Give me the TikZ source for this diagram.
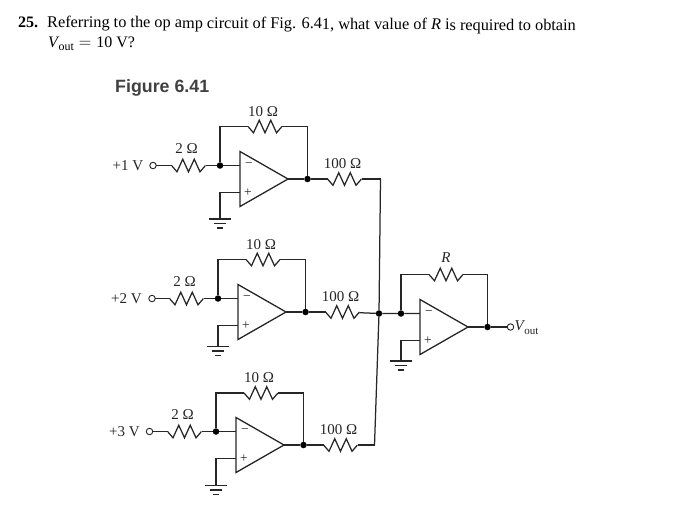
\documentclass[tikz,border=0pt]{standalone}
\usepackage{fontspec}
\setmainfont{Liberation Serif}
\newfontfamily\figfont{Liberation Sans}
\usepackage{tikz}
\usetikzlibrary{shapes.geometric, positioning}

\newcommand{\vout}[2]{\textit{V}\kern-1pt\raisebox{#2}{\fontsize{#1}{#1}\selectfont out}}

\begin{document}
\begin{tikzpicture}[
        x=1pt, y=-1pt,
        on grid,
        wire/.style={line width=1.25pt, color=black!85},
        opamp/.style={isosceles triangle, isosceles triangle stretches, shape border rotate=0, draw=black!85, line width=1.3pt, minimum width=55pt, minimum height=48pt, inner sep=0pt, outer sep=0pt, anchor=apex},
        res/.style={minimum width=34pt, minimum height=16pt, inner sep=0pt, outer sep=0pt, path picture={
            \draw[wire] (path picture bounding box.west) -- ++(5.5pt,-6.3pt) -- ++(5.75pt,12.6pt) -- ++(5.75pt,-12.6pt) -- ++(5.75pt,12.6pt) -- ++(5.75pt,-12.6pt) -- ++(5.5pt,6.3pt);}},
        gnd/.style={minimum width=22pt, minimum height=12pt, inner sep=0pt, outer sep=0pt, path picture={
            \draw[wire] ([yshift=-0.6pt]path picture bounding box.north west) -- ([yshift=-0.6pt]path picture bounding box.north east);
            \draw[wire] ([xshift=-6pt,yshift=-5pt]path picture bounding box.north) -- ([xshift=6pt,yshift=-5pt]path picture bounding box.north);
            \draw[wire] ([xshift=-3pt,yshift=-9.5pt]path picture bounding box.north) -- ([xshift=3pt,yshift=-9.5pt]path picture bounding box.north);}},
        dot/.style={circle, fill=black, minimum size=6.5pt, inner sep=0pt, outer sep=0pt},
        term/.style={circle, draw=black!85, fill=white, line width=0.9pt, minimum size=6.5pt, inner sep=0pt, outer sep=0pt},
        lab/.style={font=\fontsize{15}{16}\selectfont, color=black!85, inner sep=0pt},
        sign/.style={font=\fontsize{13.5}{14}\selectfont, color=black!85, inner sep=0pt}
    ]
    \useasboundingbox (0,0) rectangle (674,506);

    % --- Question text ---
    \node[anchor=base west, rotate=-0.43, font=\fontsize{16}{18}\selectfont\bfseries, inner sep=0pt] (num) at (18,27) {25.};
    \node[anchor=base west, rotate=-0.43, font=\fontsize{16.3}{18}\selectfont, inner sep=0pt] (line1) at (47,27) {Referring to the op amp circuit of Fig. 6.41, what value of \textit{R} is required to obtain};
    \node[anchor=base west, font=\fontsize{16}{18}\selectfont, inner sep=0pt] (line2) at (48,47) {\vout{12}{-3pt}\kern5pt$=$\kern5pt10 V?};
    \node[anchor=base west, font=\fontsize{17.8}{18}\selectfont\figfont\bfseries, color=black!75, inner sep=0pt] (figlab) at (115,92) {Figure 6.41};

    % --- Stage 1 ---
    \node[opamp] (a1) at (288,179) {};
    \coordinate[above=13.5pt of a1.lower side] (m1);
    \coordinate[below=13.5pt of a1.lower side] (p1);
    \node[dot, left=20pt of m1, anchor=center] (j1) {};
    \node[res, left=31.5pt of j1] (r1) {};
    \node[term, left=35.5pt of r1] (in1) {};
    \node[lab, left=25pt of in1] (v1) {+1 V};
    \node[res, above right=39pt and 25pt of m1, anchor=center] (f1) {};
    \node[dot, right=19.5pt of a1.apex, anchor=center] (o1) {};
    \node[res, right=37pt of o1] (s1) {};
    \coordinate[right=36pt of s1] (c1);
    \node[gnd, below=59pt of j1] (g1) {};
    \node[lab, above left=16.5pt and 2pt of r1] {2 Ω};
    \node[lab, above left=15pt and 2pt of f1] {10 Ω};
    \node[lab, above left=15pt and 2pt of s1] {100 Ω};
    \node[sign, right=9pt of m1, anchor=center] {−};
    \node[sign, right=8pt of p1, anchor=center] {+};
    \draw[wire] (in1) -- (r1) -- (j1) -- (m1);
    \draw[wire] (j1) |- (f1);
    \draw[wire] (f1) -| (o1);
    \draw[wire] (a1.apex) -- (o1) -- (s1) -- (c1);
    \draw[wire] (p1) -| (g1.north);

    % --- Stage 2 ---
    \node[opamp] (a2) at (286,312) {};
    \coordinate[above=13.5pt of a2.lower side] (m2);
    \coordinate[below=13.5pt of a2.lower side] (p2);
    \node[dot, left=20pt of m2, anchor=center] (j2) {};
    \node[res, left=31.5pt of j2] (r2) {};
    \node[term, left=34.5pt of r2] (in2) {};
    \node[lab, left=25.5pt of in2] (v2) {+2 V};
    \node[res, above right=39pt and 25pt of m2, anchor=center] (f2) {};
    \node[dot, right=19.5pt of a2.apex, anchor=center] (o2) {};
    \node[res, right=37pt of o2] (s2) {};
    \node[gnd, below=53.5pt of j2] (g2) {};
    \node[lab, above left=16.5pt and 2pt of r2] {2 Ω};
    \node[lab, above left=15pt and 2pt of f2] {10 Ω};
    \node[lab, above left=15pt and 2pt of s2] {100 Ω};
    \node[sign, right=9pt of m2, anchor=center] {−};
    \node[sign, right=8pt of p2, anchor=center] {+};
    \draw[wire] (in2) -- (r2) -- (j2) -- (m2);
    \draw[wire] (j2) |- (f2);
    \draw[wire] (f2) -| (o2);
    \draw[wire] (a2.apex) -- (o2) -- (s2);
    \draw[wire] (p2) -| (g2.north);

    % --- Stage 3 ---
    \node[opamp] (a3) at (284,445) {};
    \coordinate[above=13.5pt of a3.lower side] (m3);
    \coordinate[below=13.5pt of a3.lower side] (p3);
    \node[dot, left=20pt of m3, anchor=center] (j3) {};
    \node[res, left=31.5pt of j3] (r3) {};
    \node[term, left=35pt of r3] (in3) {};
    \node[lab, left=25pt of in3] (v3) {+3 V};
    \node[res, above right=38.5pt and 25pt of m3, anchor=center] (f3) {};
    \node[dot, right=19.5pt of a3.apex, anchor=center] (o3) {};
    \node[res, right=37pt of o3] (s3) {};
    \coordinate[right=34pt of s3] (c3);
    \node[gnd, below=59.5pt of j3] (g3) {};
    \node[lab, above left=16.5pt and 2pt of r3] {2 Ω};
    \node[lab, above left=15pt and 2pt of f3] {10 Ω};
    \node[lab, above left=15pt and 2pt of s3] {100 Ω};
    \node[sign, right=9pt of m3, anchor=center] {−};
    \node[sign, right=8pt of p3, anchor=center] {+};
    \draw[wire] (in3) -- (r3) -- (j3) -- (m3);
    \draw[wire] (j3) |- (f3);
    \draw[wire] (f3) -| (o3);
    \draw[wire] (a3.apex) -- (o3) -- (s3) -- (c3);
    \draw[wire] (p3) -| (g3.north);

    % --- Summing stage ---
    \node[opamp] (a4) at (468,327) {};
    \coordinate[above=13.5pt of a4.lower side] (m4);
    \coordinate[below=13.5pt of a4.lower side] (p4);
    \node[dot, left=19pt of m4, anchor=center] (j4) {};
    \node[dot, left=22pt of j4] (bus) {};
    \node[res, above right=39pt and 26pt of m4, anchor=center] (f4) {};
    \node[dot, right=19.5pt of a4.apex, anchor=center] (o4) {};
    \node[term, right=23pt of o4] (t4) {};
    \node[lab, right=16pt of t4, yshift=-1pt] (vo) {\vout{11}{-4pt}};
    \node[gnd, below=53pt of j4] (g4) {};
    \node[lab, above=16.5pt of f4] {\textit{R}};
    \node[sign, right=9pt of m4, anchor=center] {−};
    \node[sign, right=8pt of p4, anchor=center] {+};
    \draw[wire] (s2) -- (bus) -- (j4) -- (m4);
    \draw[wire] (j4) |- (f4);
    \draw[wire] (f4) -| (o4);
    \draw[wire] (a4.apex) -- (o4) -- (t4);
    \draw[wire] (p4) -| (g4.north);

    % --- Bus ---
    \draw[wire] (c1) -- (bus) -- (c3);

\end{tikzpicture}
\end{document}
